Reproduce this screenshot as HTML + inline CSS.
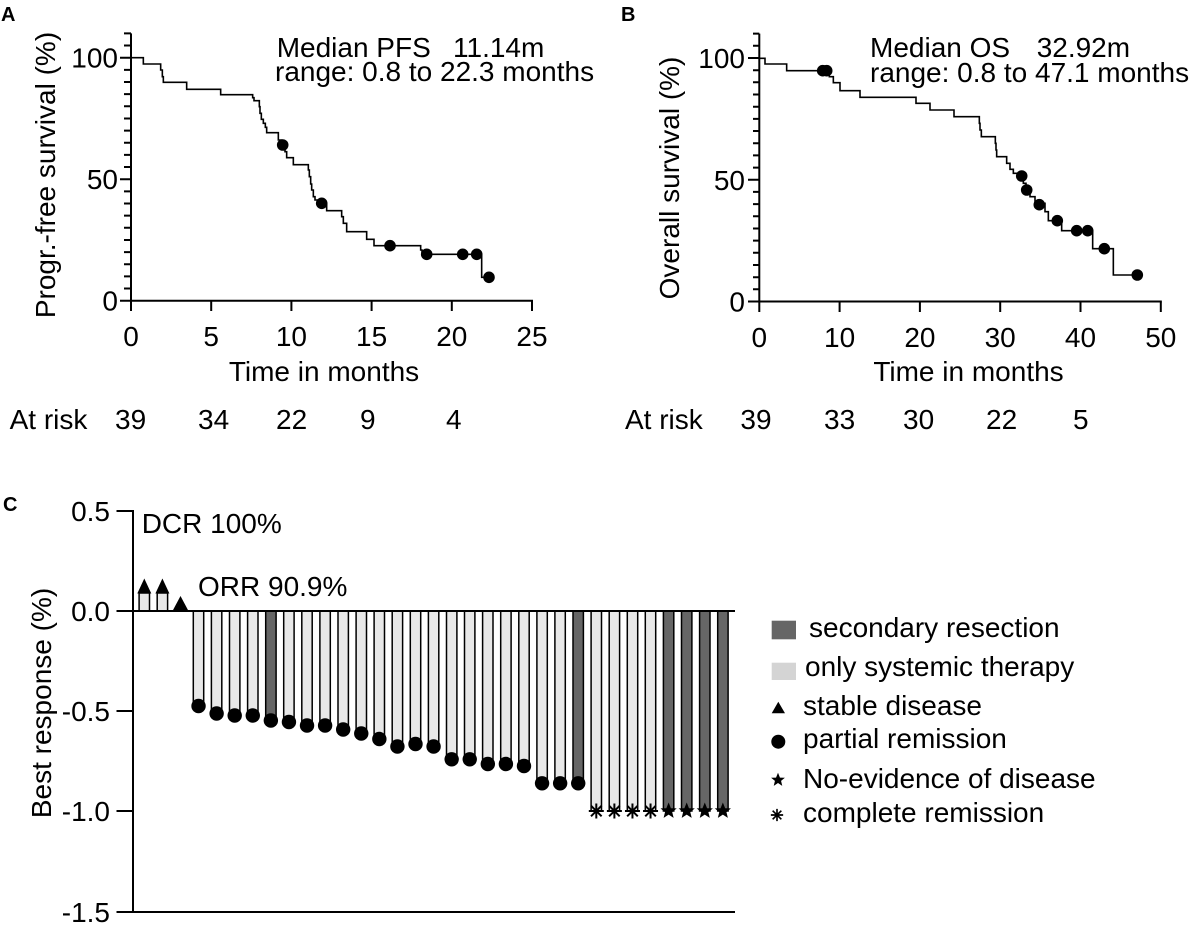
<!DOCTYPE html>
<html><head><meta charset="utf-8"><style>
html,body{margin:0;padding:0;background:#fff;}
svg{display:block;}
text{font-family:"Liberation Sans",Arial,sans-serif;fill:#000;}
text.pl{font-size:20px;font-weight:bold;}
</style></head><body>
<svg width="1200" height="926" viewBox="0 0 1200 926" xmlns="http://www.w3.org/2000/svg" font-size="28">
<rect width="1200" height="926" fill="#fff"/>

<!-- ===== Panel A ===== -->
<text class="pl" x="1" y="21" style="font-size:20px;font-weight:bold">A</text>
<g stroke="#000" stroke-width="2" fill="none">
  <line x1="131" y1="33.4" x2="131" y2="301.7"/>
  <line x1="130" y1="300.7" x2="533" y2="300.7"/>
  <path d="M120,300.7H131 M120,179.2H131 M120,57.7H131
  M124,288.55H131 M124,276.4H131 M124,264.25H131 M124,252.1H131 M124,239.95H131 M124,227.8H131 M124,215.65H131 M124,203.5H131 M124,191.35H131
  M124,167.05H131 M124,154.9H131 M124,142.75H131 M124,130.6H131 M124,118.45H131 M124,106.3H131 M124,94.15H131 M124,82H131 M124,69.85H131
  M124,45.55H131 M124,33.4H131"/>
  <path d="M131,300.7V311 M211.2,300.7V311 M291.4,300.7V311 M371.6,300.7V311 M451.8,300.7V311 M532,300.7V311"/>
</g>
<g text-anchor="end">
  <text x="118" y="67.7">100</text>
  <text x="118" y="189.2">50</text>
  <text x="118" y="310.7">0</text>
</g>
<g text-anchor="middle">
  <text x="131" y="346">0</text>
  <text x="211.2" y="346">5</text>
  <text x="291.4" y="346">10</text>
  <text x="371.6" y="346">15</text>
  <text x="451.8" y="346">20</text>
  <text x="532" y="346">25</text>
  <text x="324" y="381">Time in months</text>
</g>
<text x="9.6" y="429">At risk</text>
<text x="115" y="429">39</text>
<text x="198" y="429">34</text>
<text x="276" y="429">22</text>
<text x="360" y="429">9</text>
<text x="446" y="429">4</text>
<text transform="translate(55,175) rotate(-90)" text-anchor="middle">Progr.-free survival (%)</text>
<text x="276.7" y="57">Median PFS</text>
<text x="453" y="57">11.14m</text>
<text x="275" y="81">range: 0.8 to 22.3 months</text>
<g transform="translate(100,30) scale(0.333333)">
<path fill="none" stroke="#000" stroke-width="1.6" vector-effect="non-scaling-stroke"
 d="M93,83 H130 V102 H182 V120 H187 V140 H190 V157 H260 V178 H362 V194 H458 V203 H462 V212 H478 V230 H480 V250 H484 V268 H490 V280 H496 V292 H500 V308 H535 V330 H545 V345 H555 V365 H560 V383 H580 V404 H625 V420 H628 V440 H632 V462 H635 V480 H640 V500 H645 V510 H660 V520 H680 V542 H725 V560 H730 V580 H740 V605 H800 V628 H822 V647 H962 V660 H966 V673 H1145 V742 H1167"/>
</g>
<g fill="#000">
  <circle cx="282.7" cy="145" r="5.8"/>
  <circle cx="321.7" cy="203.3" r="5.8"/>
  <circle cx="390" cy="245.7" r="5.8"/>
  <circle cx="426.7" cy="254.3" r="5.8"/>
  <circle cx="462.7" cy="254.3" r="5.8"/>
  <circle cx="476.7" cy="254.3" r="5.8"/>
  <circle cx="489" cy="277.3" r="5.8"/>
</g>

<!-- ===== Panel B ===== -->
<text class="pl" x="621" y="21" style="font-size:20px;font-weight:bold">B</text>
<g stroke="#000" stroke-width="2" fill="none">
  <line x1="759.3" y1="33.6" x2="759.3" y2="302.5"/>
  <line x1="758.3" y1="301.5" x2="1161.8" y2="301.5"/>
  <path d="M748,301.5H759.3 M748,179.75H759.3 M748,58H759.3
  M753,289.3H759.3 M753,277.2H759.3 M753,265H759.3 M753,252.8H759.3 M753,240.6H759.3 M753,228.5H759.3 M753,216.3H759.3 M753,204.1H759.3 M753,191.9H759.3
  M753,167.6H759.3 M753,155.4H759.3 M753,143.2H759.3 M753,131H759.3 M753,118.9H759.3 M753,106.7H759.3 M753,94.5H759.3 M753,82.3H759.3 M753,70.2H759.3
  M753,45.8H759.3 M753,33.6H759.3"/>
  <path d="M759.3,301.5V312 M839.6,301.5V312 M919.9,301.5V312 M1000.2,301.5V312 M1080.5,301.5V312 M1160.8,301.5V312"/>
</g>
<g text-anchor="end">
  <text x="745" y="68">100</text>
  <text x="745" y="189.8">50</text>
  <text x="745" y="311.5">0</text>
</g>
<g text-anchor="middle">
  <text x="759.3" y="347">0</text>
  <text x="839.6" y="347">10</text>
  <text x="919.9" y="347">20</text>
  <text x="1000.2" y="347">30</text>
  <text x="1080.5" y="347">40</text>
  <text x="1160.8" y="347">50</text>
  <text x="968.5" y="381">Time in months</text>
</g>
<text x="625" y="429">At risk</text>
<text x="740.4" y="429">39</text>
<text x="824" y="429">33</text>
<text x="903" y="429">30</text>
<text x="986" y="429">22</text>
<text x="1073" y="429">5</text>
<text transform="translate(679,178) rotate(-90)" text-anchor="middle">Overall survival (%)</text>
<text x="870" y="57">Median OS</text>
<text x="1036.7" y="57">32.92m</text>
<text x="870" y="82">range: 0.8 to 47.1 months</text>
<g transform="translate(740,30) scale(0.333333)">
<path fill="none" stroke="#000" stroke-width="1.6" vector-effect="non-scaling-stroke"
 d="M58,85 H75 V102 H140 V122 H268 V140 H280 V158 H300 V182 H360 V202 H528 V220 H570 V240 H642 V260 H718 V280 H720 V300 H724 V320 H766 V340 H768 V360 H770 V380 H800 V400 H810 V418 H820 V430 H845 V445 H850 V460 H858 V480 H870 V500 H885 V520 H915 V545 H925 V572 H965 V602 H1058 V656 H1120 V735 H1192"/>
</g>
<g fill="#000">
  <circle cx="822.7" cy="70.7" r="5.8"/>
  <circle cx="826.7" cy="70.7" r="5.8"/>
  <circle cx="1021.7" cy="176" r="5.8"/>
  <circle cx="1026.7" cy="190" r="5.8"/>
  <circle cx="1039.3" cy="204.7" r="5.8"/>
  <circle cx="1057.3" cy="220.7" r="5.8"/>
  <circle cx="1076.7" cy="230.7" r="5.8"/>
  <circle cx="1087.7" cy="230.7" r="5.8"/>
  <circle cx="1104.3" cy="248.7" r="5.8"/>
  <circle cx="1137.3" cy="275" r="5.8"/>
</g>

<!-- ===== Panel C ===== -->
<text class="pl" x="3" y="511" style="font-size:20px;font-weight:bold">C</text>
<g stroke="#000" stroke-width="1.5">
  <rect x="139.1" y="593" width="10.4" height="18" fill="#e8e8e8"/>
  <rect x="157.2" y="593" width="10.4" height="18" fill="#e8e8e8"/>
  <rect x="193.3" y="611" width="10.4" height="95" fill="#e8e8e8"/>
  <rect x="211.4" y="611" width="10.4" height="102.5" fill="#e8e8e8"/>
  <rect x="229.5" y="611" width="10.4" height="104.5" fill="#e8e8e8"/>
  <rect x="247.6" y="611" width="10.4" height="104.5" fill="#e8e8e8"/>
  <rect x="265.7" y="611" width="10.4" height="109.5" fill="#666"/>
  <rect x="283.7" y="611" width="10.4" height="111" fill="#e8e8e8"/>
  <rect x="301.8" y="611" width="10.4" height="114.5" fill="#e8e8e8"/>
  <rect x="319.9" y="611" width="10.4" height="114.5" fill="#e8e8e8"/>
  <rect x="338" y="611" width="10.4" height="118.5" fill="#e8e8e8"/>
  <rect x="356.1" y="611" width="10.4" height="122.5" fill="#e8e8e8"/>
  <rect x="374.1" y="611" width="10.4" height="128" fill="#e8e8e8"/>
  <rect x="392.2" y="611" width="10.4" height="135.5" fill="#e8e8e8"/>
  <rect x="410.3" y="611" width="10.4" height="133" fill="#e8e8e8"/>
  <rect x="428.4" y="611" width="10.4" height="135.5" fill="#e8e8e8"/>
  <rect x="446.5" y="611" width="10.4" height="148.3" fill="#e8e8e8"/>
  <rect x="464.5" y="611" width="10.4" height="148.3" fill="#e8e8e8"/>
  <rect x="482.6" y="611" width="10.4" height="153" fill="#e8e8e8"/>
  <rect x="500.7" y="611" width="10.4" height="153" fill="#e8e8e8"/>
  <rect x="518.8" y="611" width="10.4" height="155" fill="#e8e8e8"/>
  <rect x="536.9" y="611" width="10.4" height="172.3" fill="#e8e8e8"/>
  <rect x="554.9" y="611" width="10.4" height="172.3" fill="#e8e8e8"/>
  <rect x="573" y="611" width="10.4" height="172.3" fill="#666"/>
  <rect x="591.1" y="611" width="10.4" height="200" fill="#e8e8e8"/>
  <rect x="609.2" y="611" width="10.4" height="200" fill="#e8e8e8"/>
  <rect x="627.3" y="611" width="10.4" height="200" fill="#e8e8e8"/>
  <rect x="645.3" y="611" width="10.4" height="200" fill="#e8e8e8"/>
  <rect x="663.4" y="611" width="10.4" height="200" fill="#666"/>
  <rect x="681.5" y="611" width="10.4" height="200" fill="#666"/>
  <rect x="699.6" y="611" width="10.4" height="200" fill="#666"/>
  <rect x="717.7" y="611" width="10.4" height="200" fill="#666"/>
</g>
<g stroke="#000" stroke-width="2" fill="none">
  <line x1="133" y1="510" x2="133" y2="913"/>
  <line x1="132" y1="611" x2="735" y2="611"/>
  <line x1="132" y1="912" x2="735" y2="912"/>
  <path d="M116.5,511H133 M116.5,611H133 M116.5,711H133 M116.5,811H133 M116.5,912H133"/>
</g>
<g text-anchor="end">
  <text x="110" y="521">0.5</text>
  <text x="110" y="621">0.0</text>
  <text x="110" y="721">-0.5</text>
  <text x="110" y="821">-1.0</text>
  <text x="110" y="922">-1.5</text>
</g>
<text transform="translate(51,703) rotate(-90)" text-anchor="middle">Best response (%)</text>
<text x="141.7" y="533">DCR 100%</text>
<text x="198" y="596">ORR 90.9%</text>
<g fill="#000">
  <polygon points="137.3,593.5 151.3,593.5 144.3,578.5"/>
  <polygon points="155.4,593.5 169.4,593.5 162.4,578.5"/>
  <polygon points="172.5,611 188.5,611 180.5,596"/>
</g>
<g fill="#000">
  <circle cx="198.54" cy="706" r="7.2"/>
  <circle cx="216.62" cy="713.5" r="7.2"/>
  <circle cx="234.7" cy="715.5" r="7.2"/>
  <circle cx="252.78" cy="715.5" r="7.2"/>
  <circle cx="270.86" cy="720.5" r="7.2"/>
  <circle cx="288.94" cy="722" r="7.2"/>
  <circle cx="307.02" cy="725.5" r="7.2"/>
  <circle cx="325.1" cy="725.5" r="7.2"/>
  <circle cx="343.18" cy="729.5" r="7.2"/>
  <circle cx="361.26" cy="733.5" r="7.2"/>
  <circle cx="379.34" cy="739" r="7.2"/>
  <circle cx="397.42" cy="746.5" r="7.2"/>
  <circle cx="415.5" cy="744" r="7.2"/>
  <circle cx="433.58" cy="746.5" r="7.2"/>
  <circle cx="451.66" cy="759.3" r="7.2"/>
  <circle cx="469.74" cy="759.3" r="7.2"/>
  <circle cx="487.82" cy="764" r="7.2"/>
  <circle cx="505.9" cy="764" r="7.2"/>
  <circle cx="523.98" cy="766" r="7.2"/>
  <circle cx="542.06" cy="783.3" r="7.2"/>
  <circle cx="560.14" cy="783.3" r="7.2"/>
  <circle cx="578.22" cy="783.3" r="7.2"/>
</g>
<defs>
  <g id="ast"><path d="M0,-7.5V7.5 M-7.5,0H7.5 M-5.3,-5.3L5.3,5.3 M-5.3,5.3L5.3,-5.3" stroke="#000" stroke-width="2"/></g>
  <polygon id="star" points="0,-8.5 2.3,-2.8 8.1,-2.6 3.6,1.1 5,6.9 0,3.6 -5,6.9 -3.6,1.1 -8.1,-2.6 -2.3,-2.8" fill="#000"/>
</defs>
<use href="#ast" x="596.3" y="811"/>
<use href="#ast" x="614.38" y="811"/>
<use href="#ast" x="632.46" y="811"/>
<use href="#ast" x="650.54" y="811"/>
<use href="#star" x="668.62" y="811"/>
<use href="#star" x="686.7" y="811"/>
<use href="#star" x="704.78" y="811"/>
<use href="#star" x="722.86" y="811"/>

<rect x="771.7" y="620.7" width="24.3" height="18.6" fill="#666"/>
<text x="809" y="637">secondary resection</text>
<rect x="771.7" y="662.7" width="24.3" height="17.3" fill="#d4d4d4"/>
<text x="805" y="676">only systemic therapy</text>
<polygon points="771.7,713.3 785,713.3 778.3,701.7" fill="#000"/>
<text x="803" y="715">stable disease</text>
<circle cx="778.3" cy="741.7" r="7" fill="#000"/>
<text x="803" y="748">partial remission</text>
<g transform="translate(778,780) scale(0.85)"><use href="#star"/></g>
<text x="803" y="788">No-evidence of disease</text>
<g transform="translate(777,815) scale(0.82)"><use href="#ast"/></g>
<text x="803" y="822">complete remission</text>
</svg>
</body></html>
